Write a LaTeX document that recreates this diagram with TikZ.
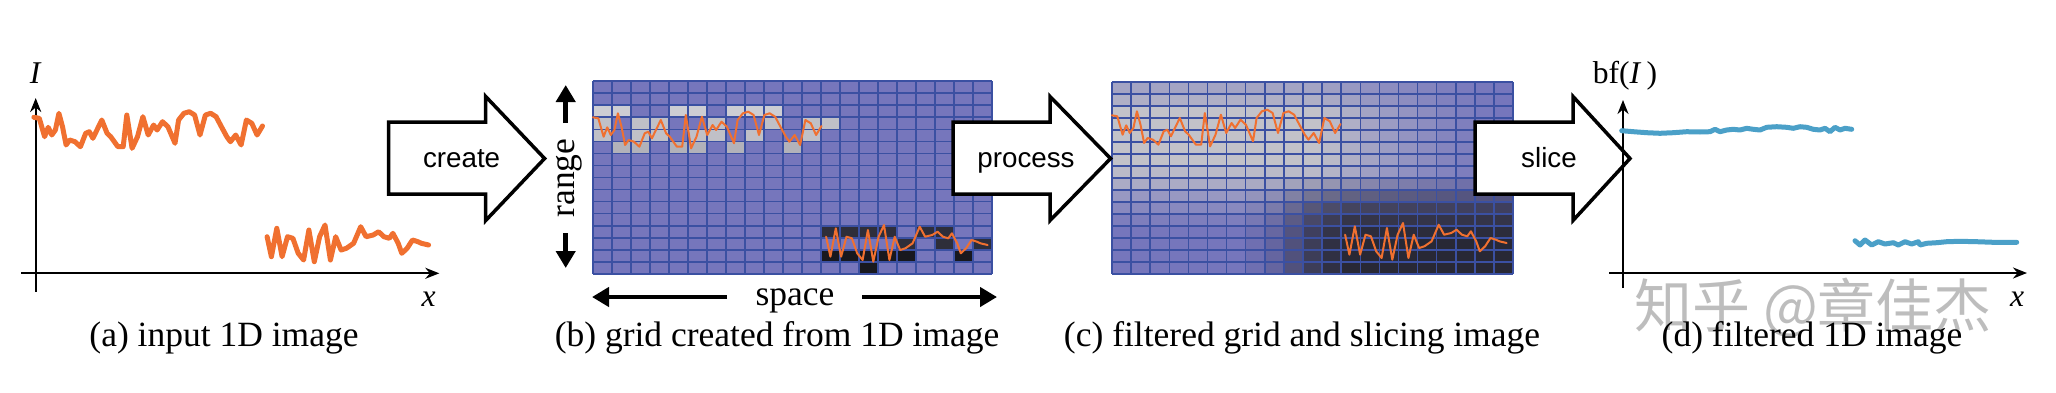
\documentclass[tikz,border=0pt]{standalone}
\usepackage{fontspec}
\setmainfont{Liberation Serif}
\newfontfamily\sansf{Liberation Sans}
\newfontfamily\cjkf{Noto Sans CJK SC}
\usetikzlibrary{arrows.meta}
\definecolor{cB}{HTML}{7676BC}
\definecolor{cGL}{HTML}{3B50A2}
\definecolor{cL1}{HTML}{CDCDD3}
\definecolor{cL2}{HTML}{C0C0C7}
\definecolor{cL3}{HTML}{B2B2BA}
\definecolor{cD1}{HTML}{2E2E3A}
\definecolor{cD2}{HTML}{18181E}
\definecolor{cL}{HTML}{C2C2C9}
\definecolor{cD}{HTML}{24242E}
\definecolor{orng}{HTML}{F07030}
\definecolor{bluec}{HTML}{4BA0C8}
\definecolor{wmgray}{HTML}{BDBDBD}
\newcommand\upcurve{(33.9,117.3) -- (39.3,118.3) -- (44.6,136.7) -- (48.2,127.3) -- (51.8,135) -- (55.4,130) -- (58.9,113.3) -- (62.5,126.7) -- (66.1,145) -- (69.6,140) -- (75,141.7) -- (80.4,146.7) -- (85.7,133.3) -- (89.3,131.7) -- (92.9,138.3) -- (101.8,120) -- (107.1,133.3) -- (110.7,136.7) -- (117.9,146.7) -- (123.2,146.7) -- (126.8,115) -- (132.1,148.3) -- (137.5,136.7) -- (142.9,116.7) -- (148.2,135) -- (153.6,125) -- (157.1,130) -- (162.5,121.7) -- (167.9,126.7) -- (175,143.3) -- (178.6,120) -- (183.9,113.3) -- (189.3,111.7) -- (194.6,115) -- (200,135) -- (205.4,115) -- (210.7,113.3) -- (216.1,116.7) -- (221.4,126.7) -- (226.8,136.7) -- (230.4,141.7) -- (235.7,135) -- (241.1,145) -- (246.4,120) -- (251.8,123.3) -- (257.1,135) -- (262.5,126)}
\newcommand\lowcurve{(267.1,236.7) -- (271.4,256.7) -- (276.8,228.3) -- (282.1,256.7) -- (287.5,236.7) -- (292.9,238.3) -- (298.2,253.3) -- (303.6,260) -- (308.9,230) -- (314.3,261.7) -- (319.6,236.7) -- (325,225) -- (330.4,260) -- (335.7,236.7) -- (341.1,250) -- (346.4,248.3) -- (353.6,243.3) -- (360.7,226.7) -- (366.1,236.7) -- (373.2,235) -- (378.6,231.7) -- (383.9,236.7) -- (389.3,238.3) -- (392.9,233.3) -- (398.2,243.3) -- (401.8,253.3) -- (407.1,248.3) -- (412.5,240) -- (417.9,241.7) -- (421.4,243.3) -- (428.6,245)}
\begin{document}
\begin{tikzpicture}[x=0.1mm,y=-0.1mm,
  axisline/.style={black, line width=0.22mm, -{Stealth[length=1.4mm,width=1.1mm]}},
  bigarrow/.style={draw=black, fill=white, line width=0.35mm, line join=miter},
  dimarrow/.style={black, line width=0.45mm, -{Triangle[length=1.7mm,width=1.9mm]}},
  thickcurve/.style={orng, line width=0.5mm, line join=round, line cap=round},
  thincurve/.style={orng, line width=0.2mm, line join=round, line cap=round},
  bluecurve/.style={bluec, line width=0.5mm, line join=round, line cap=round},
  gridline/.style={cGL, line width=0.15mm},
  captxt/.style={font=\fontsize{10.1}{12}\selectfont, anchor=base, inner sep=0pt},
  arrowlabel/.style={font=\sansf\fontsize{7.9}{9}\selectfont, anchor=base, inner sep=0pt},
  axlabel/.style={font=\fontsize{9}{11}\selectfont, anchor=base, inner sep=0pt},
  dimlabel/.style={font=\fontsize{10.1}{12}\selectfont, anchor=base, inner sep=0pt},
]
\useasboundingbox (0,0) rectangle (2056,392);

% ---------- (a) input 1D image ----------
\coordinate (aO1) at (35.7,291.7);
\coordinate (aY) at (35.7,98);
\coordinate (aO2) at (21.4,273.3);
\coordinate (aX) at (439.3,273.3);
\draw[axisline] (aO1) -- (aY);
\draw[axisline] (aO2) -- (aX);
\node[axlabel] (aIlbl) at (35.7,83) {\textit{I}};
\node[axlabel] (axlbl) at (428.6,306.7) {\textit{x}};
\draw[thickcurve] \upcurve;
\draw[thickcurve] \lowcurve;
\node[captxt] (capa) at (224,346) {(a) input 1D image};

% ---------- (b) grid created ----------
\fill[cB] (593,81) rectangle (992,274);
\foreach \r/\cl/\cc in {2/{0,1,4,5,7,8,9}/cL1, 3/{0,2,3,6,9,11,12}/cL2, 4/{0,2,3,5,6,8,11}/cL2, 5/{1,2,4,5,7,10}/cL3,
                        12/{12,13,14,15,17,18}/cD1, 13/{16,18,20}/cD1, 14/{12,13,14,15,16,19}/cD2, 15/{14}/cD2}{
  \foreach \i in \cl {
    \fill[\cc] ({593+\i*19},{81+\r*12.0625}) rectangle ++(19,12.0625);
  }
}
\foreach \k in {0,...,21} \draw[gridline] ({593+\k*19},81) -- ({593+\k*19},274);
\foreach \k in {0,...,16} \draw[gridline] (593,{81+\k*12.0625}) -- (992,{81+\k*12.0625});
\begin{scope}[shift={(559,0)}]
  \draw[thincurve] \upcurve;
  \draw[thincurve] \lowcurve;
\end{scope}
\coordinate (rU1) at (565.7,123);
\coordinate (rU2) at (565.7,85);
\coordinate (rD1) at (565.7,233);
\coordinate (rD2) at (565.7,268);
\draw[dimarrow] (rU1) -- (rU2);
\draw[dimarrow] (rD1) -- (rD2);
\node[dimlabel, rotate=90] (rangelbl) at (574,178) {range};
\coordinate (sL1) at (727,297);
\coordinate (sL2) at (592,297);
\coordinate (sR1) at (862,297);
\coordinate (sR2) at (997,297);
\draw[dimarrow] (sL1) -- (sL2);
\draw[dimarrow] (sR1) -- (sR2);
\node[dimlabel] (spacelbl) at (795,305) {space};
\node[captxt] (capb) at (777,346) {(b) grid created from 1D image};

% ---------- (c) filtered grid ----------
\foreach \j/\ly/\dy in {0/0.6/0, 1/0.75/0, 2/1/0, 3/1/0, 4/1/0, 5/1/0, 6/1/0, 7/0.9/0, 8/0.7/0.15, 9/0.45/0.45, 10/0.25/0.7, 11/0.1/0.85, 12/0/0.95, 13/0/1, 14/0/1, 15/0/1}{
  \foreach \i/\lx/\dx in {0/1/0, 1/1/0, 2/1/0, 3/1/0, 4/1/0, 5/1/0, 6/1/0, 7/1/0.08, 8/1/0.2, 9/1/0.45, 10/1/0.7, 11/0.9/0.85, 12/0.75/0.95, 13/0.6/0.95, 14/0.5/0.95, 15/0.4/0.95, 16/0.3/0.95, 17/0.2/0.95, 18/0.12/0.95, 19/0.05/0.95, 20/0/0.95}{
    \pgfmathsetmacro\wl{100*\lx*\ly}
    \pgfmathsetmacro\wd{100*\dx*\dy}
    \colorlet{ctmp}{cL!\wl!cB}
    \colorlet{ctmpb}{cD!\wd!ctmp}
    \fill[ctmpb] ({1112+\i*19.1},{82+\j*12}) rectangle ++(19.1,12);
  }
}
\foreach \k in {0,...,21} \draw[gridline] ({1112+\k*19.1},82) -- ({1112+\k*19.1},274);
\foreach \k in {0,...,16} \draw[gridline] (1112,{82+\k*12}) -- (1513.1,{82+\k*12});
\begin{scope}[shift={(1078,-2)}]
  \draw[thincurve] \upcurve;
  \draw[thincurve] \lowcurve;
\end{scope}
\node[captxt] (capc) at (1302,346) {(c) filtered grid and slicing image};

% ---------- big arrows ----------
\draw[bigarrow] (388.6,122) -- (485.7,122) -- (485.7,96.5) -- (544.6,158.5) -- (485.7,220.5) -- (485.7,194) -- (388.6,194) -- cycle;
\node[arrowlabel] (createlbl) at (461.6,167) {create};
\draw[bigarrow] (953,122) -- (1050,122) -- (1050,96.5) -- (1110.6,158.5) -- (1050,220.5) -- (1050,194) -- (953,194) -- cycle;
\node[arrowlabel] (processlbl) at (1026,167) {process};
\draw[bigarrow] (1475,122) -- (1573,122) -- (1573,96.5) -- (1630,158.5) -- (1573,220.5) -- (1573,194) -- (1475,194) -- cycle;
\node[arrowlabel] (slicelbl) at (1549,167) {slice};

% ---------- (d) filtered 1D image ----------
\node[font=\cjkf\fontsize{16.5}{18}\selectfont, text=wmgray, inner sep=0pt] (wm) at (1813,308) {知乎 @章佳杰};
\coordinate (dO1) at (1623,288);
\coordinate (dY) at (1623,100);
\coordinate (dO2) at (1609,273);
\coordinate (dX) at (2027,273);
\draw[axisline] (dO1) -- (dY);
\draw[axisline] (dO2) -- (dX);
\node[axlabel] (dIlbl) at (1625,83) {bf(\textit{I}\,)};
\node[axlabel] (dxlbl) at (2017,306.7) {\textit{x}};
\draw[bluecurve] (1621.7,130.7) -- (1633.3,131.7) -- (1646.7,132.7) -- (1660,133.3) -- (1673.3,132.7) -- (1686.7,131.7) -- (1700,132) -- (1710,131.7) -- (1715,129.3) -- (1720,131.7) -- (1726.7,130) -- (1733.3,129.3) -- (1740,130) -- (1746.7,128.3) -- (1753.3,129.3) -- (1760,130) -- (1766.7,127.3) -- (1776.7,126.7) -- (1786.7,127.3) -- (1793.3,128.3) -- (1800,126.7) -- (1806.7,127.3) -- (1813.3,129.3) -- (1820,130) -- (1825,128.3) -- (1830,131.7) -- (1835,127.3) -- (1840,130) -- (1845,128.3) -- (1851.7,129.3);
\draw[bluecurve] (1855,240.7) -- (1860,245) -- (1865,240) -- (1871.7,245) -- (1878.3,241.7) -- (1885,244) -- (1893.3,242.7) -- (1898.3,245) -- (1905,241.7) -- (1911.7,244) -- (1918.3,241.7) -- (1920,245) -- (1926.7,243.3) -- (1936.7,242.7) -- (1946.7,241.7) -- (1960,241.3) -- (1976.7,241.7) -- (1993.3,242.3) -- (2016.7,242.3);
\node[captxt] (capd) at (1812,346) {(d) filtered 1D image};
\end{tikzpicture}
\end{document}
